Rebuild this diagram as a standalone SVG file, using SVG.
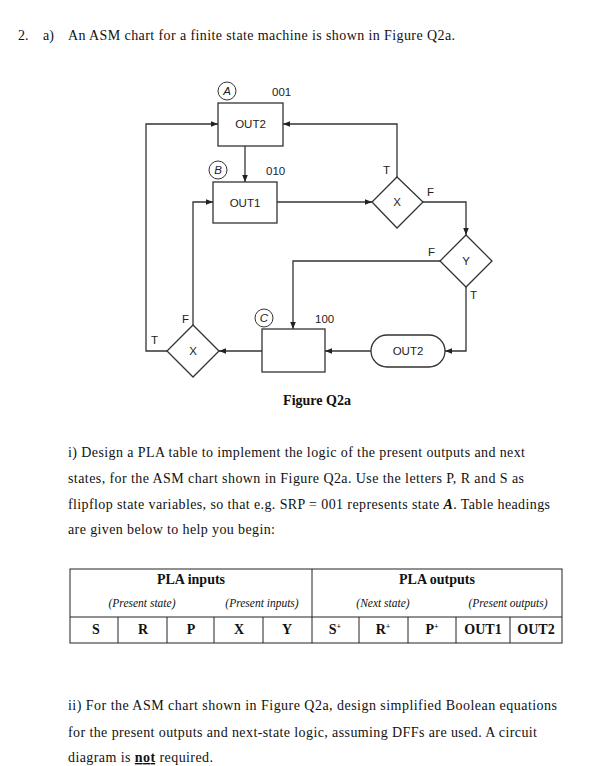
<svg xmlns="http://www.w3.org/2000/svg" width="591" height="766" viewBox="0 0 591 766">
<style>
.t{font-family:"Liberation Serif","Times New Roman",serif;font-size:14px;fill:#111}
.b{font-weight:bold}
.i{font-style:italic;font-size:11.5px}
.s{font-family:"Liberation Sans",Arial,sans-serif;font-size:11.5px;fill:#222}
.box{fill:#fff;stroke:#333;stroke-width:1.3}
.ln{fill:none;stroke:#333;stroke-width:1.3}
.tb{fill:none;stroke:#222;stroke-width:1}
.c{fill:#fff;stroke:#333;stroke-width:1}
</style>
<defs>
<marker id="ah" viewBox="0 0 10 10" refX="10" refY="5" markerWidth="7" markerHeight="7" markerUnits="userSpaceOnUse" orient="auto">
<path d="M0,1 L10,5 L0,9 Z" fill="#222"/>
</marker>
</defs>
<rect width="591" height="766" fill="#fff"/>
<text class="t" x="18" y="40">2.</text>
<text class="t" x="43" y="40">a)</text>
<text class="t" x="68" y="40" textLength="387" lengthAdjust="spacing">An ASM chart for a finite state machine is shown in Figure Q2a.</text>

<g id="connectors">
<path class="ln" d="M167,351 H146 V124 H218" marker-end="url(#ah)"/>
<path class="ln" d="M397,177 V124 H283" marker-end="url(#ah)"/>
<path class="ln" d="M245,146 V182" marker-end="url(#ah)"/>
<path class="ln" d="M193,325 V202 H213" marker-end="url(#ah)"/>
<path class="ln" d="M277,202 H372" marker-end="url(#ah)"/>
<path class="ln" d="M423,202 H466 V235" marker-end="url(#ah)"/>
<path class="ln" d="M440,261 H293 V329" marker-end="url(#ah)"/>
<path class="ln" d="M466,287 V351 H445" marker-end="url(#ah)"/>
<path class="ln" d="M371,351 H325" marker-end="url(#ah)"/>
<path class="ln" d="M262,351 H219" marker-end="url(#ah)"/>
<text class="s" x="383" y="174">T</text>
<text class="s" x="427" y="196">F</text>
<text class="s" x="428" y="256">F</text>
<text class="s" x="470" y="299">T</text>
<text class="s" x="151" y="344">T</text>
<text class="s" x="182" y="323">F</text>
</g>

<g id="stateA">
<rect class="box" x="218" y="103" width="65" height="43"/>
<text class="s" x="250.5" y="128" text-anchor="middle">OUT2</text>
<circle class="c" cx="227" cy="91" r="9"/>
<text class="s" x="227" y="95" text-anchor="middle" font-style="italic">A</text>
<text class="s" x="272" y="96">001</text>
</g>
<g id="stateB">
<rect class="box" x="213" y="182" width="64" height="41"/>
<text class="s" x="245" y="207" text-anchor="middle">OUT1</text>
<circle class="c" cx="218" cy="170" r="9"/>
<text class="s" x="218" y="174" text-anchor="middle" font-style="italic">B</text>
<text class="s" x="266" y="175">010</text>
</g>
<g id="decisionX1">
<polygon class="box" points="397,177 423,202 397,228 372,202"/>
<text class="s" x="397" y="206" text-anchor="middle">X</text>
</g>
<g id="decisionY">
<polygon class="box" points="466,235 492,261 466,287 440,261"/>
<text class="s" x="466" y="265" text-anchor="middle">Y</text>
</g>
<g id="stateC">
<rect class="box" x="262" y="329" width="63" height="43"/>
<circle class="c" cx="264" cy="318" r="9"/>
<text class="s" x="264" y="322" text-anchor="middle" font-style="italic">C</text>
<text class="s" x="315" y="323">100</text>
</g>
<g id="decisionX2">
<polygon class="box" points="193,325 219,351 193,377 167,351"/>
<text class="s" x="193" y="355" text-anchor="middle">X</text>
</g>
<g id="condOut2">
<rect class="box" x="371" y="335" width="74" height="32" rx="16" ry="16"/>
<text class="s" x="408" y="355" text-anchor="middle">OUT2</text>
</g>

<text class="t b" x="317" y="405" text-anchor="middle">Figure Q2a</text>

<text class="t" x="68" y="457" textLength="457" lengthAdjust="spacing">i) Design a PLA table to implement the logic of the present outputs and next</text>
<text class="t" x="68" y="483" textLength="456" lengthAdjust="spacing">states, for the ASM chart shown in Figure Q2a. Use the letters P, R and S as</text>
<text class="t" x="68" y="509" textLength="482" lengthAdjust="spacing">flipflop state variables, so that e.g. SRP = 001 represents state <tspan font-weight="bold" font-style="italic">A</tspan>. Table headings</text>
<text class="t" x="68" y="534" textLength="207" lengthAdjust="spacing">are given below to help you begin:</text>

<g id="plaTable">
<rect class="tb" x="70" y="569" width="492" height="74"/>
<line class="tb" x1="70" y1="617" x2="562" y2="617"/>
<line class="tb" x1="312" y1="569" x2="312" y2="643"/>
<line class="tb" x1="118" y1="617" x2="118" y2="643"/>
<line class="tb" x1="167" y1="617" x2="167" y2="643"/>
<line class="tb" x1="214" y1="617" x2="214" y2="643"/>
<line class="tb" x1="263" y1="617" x2="263" y2="643"/>
<line class="tb" x1="359" y1="617" x2="359" y2="643"/>
<line class="tb" x1="408" y1="617" x2="408" y2="643"/>
<line class="tb" x1="456" y1="617" x2="456" y2="643"/>
<line class="tb" x1="510" y1="617" x2="510" y2="643"/>
<text class="t b" x="191" y="584" text-anchor="middle">PLA inputs</text>
<text class="t b" x="437" y="584" text-anchor="middle">PLA outputs</text>
<text class="t i" x="142" y="607" text-anchor="middle">(Present state)</text>
<text class="t i" x="262" y="607" text-anchor="middle">(Present inputs)</text>
<text class="t i" x="383" y="607" text-anchor="middle">(Next state)</text>
<text class="t i" x="508" y="607" text-anchor="middle">(Present outputs)</text>
<text class="t b" x="96" y="634" text-anchor="middle">S</text>
<text class="t b" x="143" y="634" text-anchor="middle">R</text>
<text class="t b" x="191" y="634" text-anchor="middle">P</text>
<text class="t b" x="239" y="634" text-anchor="middle">X</text>
<text class="t b" x="287" y="634" text-anchor="middle">Y</text>
<text class="t b" x="335" y="634" text-anchor="middle">S<tspan font-size="8" dy="-5">+</tspan></text>
<text class="t b" x="383" y="634" text-anchor="middle">R<tspan font-size="8" dy="-5">+</tspan></text>
<text class="t b" x="432" y="634" text-anchor="middle">P<tspan font-size="8" dy="-5">+</tspan></text>
<text class="t b" x="483" y="634" text-anchor="middle">OUT1</text>
<text class="t b" x="536" y="634" text-anchor="middle">OUT2</text>
</g>

<text class="t" x="68" y="710" textLength="489" lengthAdjust="spacing">ii) For the ASM chart shown in Figure Q2a, design simplified Boolean equations</text>
<text class="t" x="68" y="737" textLength="469" lengthAdjust="spacing">for the present outputs and next-state logic, assuming DFFs are used. A circuit</text>
<text class="t" x="68" y="762" textLength="145" lengthAdjust="spacing">diagram is <tspan font-weight="bold" text-decoration="underline">not</tspan> required.</text>
</svg>
